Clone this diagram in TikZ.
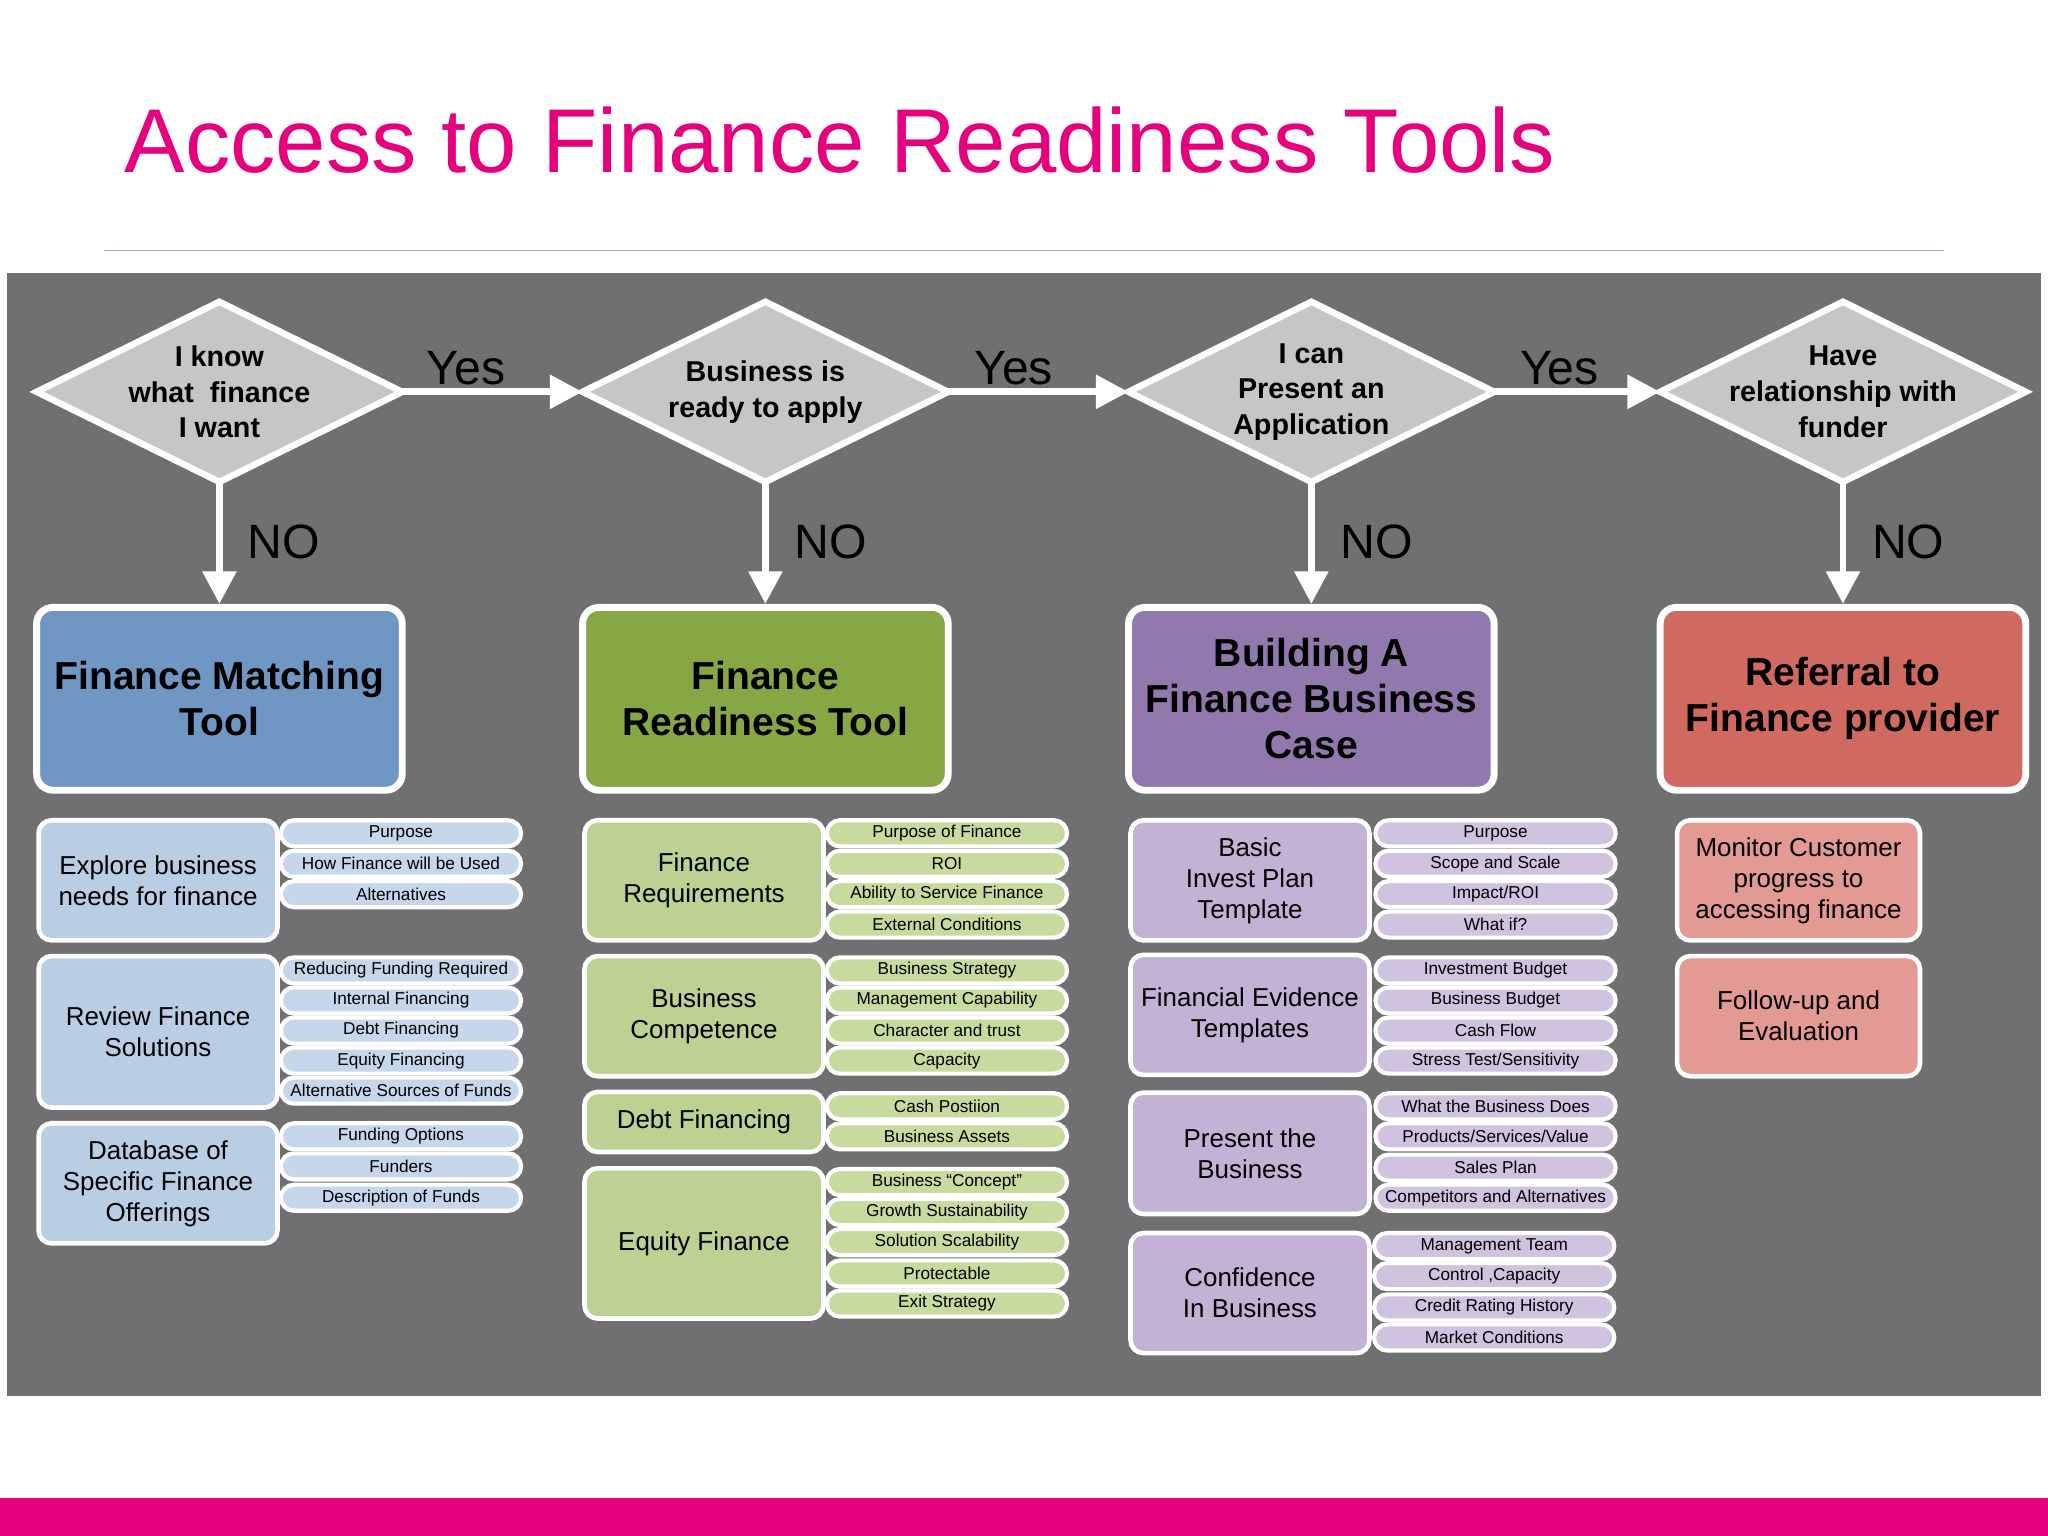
\documentclass[tikz,border=0pt]{standalone}
\usepackage{fontspec}
\setmainfont{Liberation Sans}
\usetikzlibrary{arrows.meta}
\definecolor{mag}{HTML}{E6007E}
\definecolor{panel}{HTML}{707073}
\definecolor{dia}{HTML}{C6C6C8}
\definecolor{bBlue}{HTML}{7097C4}\definecolor{lBlue}{HTML}{B9CDE5}\definecolor{pBlue}{HTML}{C6D7EC}
\definecolor{bGreen}{HTML}{87A745}\definecolor{lGreen}{HTML}{BCD192}\definecolor{pGreen}{HTML}{C8DB9E}
\definecolor{bPurp}{HTML}{9179AE}\definecolor{lPurp}{HTML}{C2B2D5}\definecolor{pPurp}{HTML}{CFC3DF}
\definecolor{bRed}{HTML}{D06A60}\definecolor{lRed}{HTML}{E39A93}
\tikzset{
 dtext/.style={inner sep=0pt,align=center,font=\fontsize{12.5}{15.5}\selectfont\bfseries},
 bigbox/.style={draw=white,line width=3pt,rounded corners=0.25cm,minimum width=5.6cm,minimum height=2.8cm,inner sep=0pt,align=center,font=\fontsize{17}{20}\selectfont\bfseries},
 lbox/.style={draw=white,line width=2pt,rounded corners=0.2cm,minimum width=3.66cm,align=center,font=\fontsize{11.3}{13.5}\selectfont},
 pill/.style={draw=white,line width=1.8pt,rounded corners=0.2cm,minimum width=3.68cm,minimum height=0.4cm,inner sep=0pt,font=\fontsize{7.5}{9}\selectfont},
 warr/.style={draw=white,line width=3pt,-{Triangle[length=0.5cm,width=0.5cm]}},
 lab/.style={font=\fontsize{21}{24}\selectfont}
}
\newcommand{\pills}[4]{%
 \foreach \t [count=\i] in {#4}{\node[pill,fill=#3] (p-#1-\i) at (#1,{#2+23.3*(\i-1)}) {\t};}}
\newcommand{\mydia}[3]{% name, x, text
 \coordinate (#1-w) at (#2-140,300); \coordinate (#1-e) at (#2+140,300);
 \coordinate (#1-n) at (#2,231); \coordinate (#1-s) at (#2,369);
 \filldraw[fill=dia,draw=white,line width=2.8pt,line join=miter] (#1-w) -- (#1-n) -- (#1-e) -- (#1-s) -- cycle;
 \node[dtext] (#1) at (#2,300) {#3};}
\begin{document}
\begin{tikzpicture}[x=0.02cm,y=-0.02cm]
\useasboundingbox (0,0) rectangle (1568,1176);
\fill[white] (0,0) rectangle (1568,1176);
\node[anchor=base west,text=mag,font=\fontsize{39.5}{46}\selectfont,inner sep=0] (title) at (95,132) {Access to Finance Readiness Tools};
\draw[color=gray!70!blue!60,line width=0.6pt] (80,192) coordinate (l1) -- (1488,192) coordinate (l2);
\fill[panel] (5,209) rectangle (1563,1069);
\fill[mag] (0,1147) rectangle (1568,1176);
\mydia{d1}{168}{I know\\what\ \ finance\\I want}
\mydia{d2}{586}{Business is\\ready to apply}
\mydia{d3}{1004}{I can\\Present an\\Application}
\mydia{d4}{1411}{Have\\relationship with\\funder}
\node[bigbox,fill=bBlue] (b1) at (168,535) {Finance Matching\\Tool};
\node[bigbox,fill=bGreen] (b2) at (586,535) {Finance\\Readiness Tool};
\node[bigbox,fill=bPurp] (b3) at (1004,535) {Building A\\Finance Business\\Case};
\node[bigbox,fill=bRed] (b4) at (1411,535) {Referral to\\Finance provider};
\foreach \a/\b in {d1/d2,d2/d3,d3/d4}{\draw[warr] (\a-e) -- (\b-w);}
\foreach \i in {1,2,3,4}{\draw[warr] (d\i-s) -- (b\i.north);}
\node[lab] (y1) at (357,282) {Yes};
\node[lab] (y2) at (776,282) {Yes};
\node[lab] (y3) at (1194,282) {Yes};
\node[lab] (n1) at (217,415) {NO};
\node[lab] (n2) at (636,415) {NO};
\node[lab] (n3) at (1054,415) {NO};
\node[lab] (n4) at (1461,415) {NO};
% column 1
\node[lbox,fill=lBlue,minimum height=1.84cm] (c1a) at (121,674) {Explore business\\needs for finance};
\pills{307}{638}{pBlue}{Purpose,How Finance will be Used,Alternatives}
\node[lbox,fill=lBlue,minimum height=2.32cm] (c1b) at (121,790) {Review Finance\\Solutions};
\node[pill,fill=pBlue] (q1) at (307,743) {Reducing Funding Required};
\node[pill,fill=pBlue] (q2) at (307,766) {Internal Financing};
\node[pill,fill=pBlue] (q3) at (307,789) {Debt Financing};
\node[pill,fill=pBlue] (q4) at (307,812) {Equity Financing};
\node[pill,fill=pBlue] (q5) at (307,835) {Alternative Sources of Funds};
\node[lbox,fill=lBlue,minimum height=1.84cm] (c1c) at (121,906) {Database of\\Specific Finance\\Offerings};
\node[pill,fill=pBlue] (r1) at (307,870) {Funding Options};
\node[pill,fill=pBlue] (r2) at (307,893) {Funders};
\node[pill,fill=pBlue] (r3) at (307,917) {Description of Funds};
% column 2
\node[lbox,fill=lGreen,minimum height=1.84cm] (c2a) at (539,674) {Finance\\Requirements};
\pills{725}{638}{pGreen}{Purpose of Finance,ROI,Ability to Service Finance,External Conditions}
\node[lbox,fill=lGreen,minimum height=1.84cm] (c2b) at (539,778) {Business\\Competence};
\node[pill,fill=pGreen] (s1) at (725,743) {Business Strategy};
\node[pill,fill=pGreen] (s2) at (725,766) {Management Capability};
\node[pill,fill=pGreen] (s3) at (725,789) {Character and trust};
\node[pill,fill=pGreen] (s4) at (725,812) {Capacity};
\node[lbox,fill=lGreen,minimum height=0.92cm] (c2c) at (539,859) {Debt Financing};
\node[pill,fill=pGreen] (t1) at (725,847) {Cash Postiion};
\node[pill,fill=pGreen] (t2) at (725,870) {Business Assets};
\node[lbox,fill=lGreen,minimum height=2.3cm] (c2d) at (539,952) {Equity Finance};
\node[pill,fill=pGreen] (u1) at (725,905) {Business “Concept”};
\node[pill,fill=pGreen] (u2) at (725,928) {Growth Sustainability};
\node[pill,fill=pGreen] (u3) at (725,951) {Solution Scalability};
\node[pill,fill=pGreen] (u4) at (725,975) {Protectable};
\node[pill,fill=pGreen] (u5) at (725,998) {Exit Strategy};
% column 3
\node[lbox,fill=lPurp,minimum height=1.84cm] (c3a) at (957,674) {Basic\\Invest Plan\\Template};
\pills{1145}{638}{pPurp}{Purpose,Scope and Scale,Impact/ROI,What if?}
\node[lbox,fill=lPurp,minimum height=1.84cm] (c3b) at (957,777) {Financial Evidence\\Templates};
\node[pill,fill=pPurp] (v1) at (1145,743) {Investment Budget};
\node[pill,fill=pPurp] (v2) at (1145,766) {Business Budget};
\node[pill,fill=pPurp] (v3) at (1145,789) {Cash Flow};
\node[pill,fill=pPurp] (v4) at (1145,812) {Stress Test/Sensitivity};
\node[lbox,fill=lPurp,minimum height=1.86cm] (c3c) at (957,883) {Present the\\Business};
\node[pill,fill=pPurp] (w1) at (1145,847) {What the Business Does};
\node[pill,fill=pPurp] (w2) at (1145,870) {Products/Services/Value};
\node[pill,fill=pPurp] (w3) at (1145,894) {Sales Plan};
\node[pill,fill=pPurp] (w4) at (1145,917) {Competitors and Alternatives};
\node[lbox,fill=lPurp,minimum height=1.84cm] (c3d) at (957,990) {Confidence\\In Business};
\node[pill,fill=pPurp] (z1) at (1144,954) {Management Team};
\node[pill,fill=pPurp] (z2) at (1144,977) {Control ,Capacity};
\node[pill,fill=pPurp] (z3) at (1144,1001) {Credit Rating History};
\node[pill,fill=pPurp] (z4) at (1144,1024) {Market Conditions};
% column 4
\node[lbox,fill=lRed,minimum width=3.72cm,minimum height=1.84cm] (c4a) at (1377,674) {Monitor Customer\\progress to\\accessing finance};
\node[lbox,fill=lRed,minimum width=3.72cm,minimum height=1.84cm] (c4b) at (1377,778) {Follow-up and\\Evaluation};
\end{tikzpicture}
\end{document}
